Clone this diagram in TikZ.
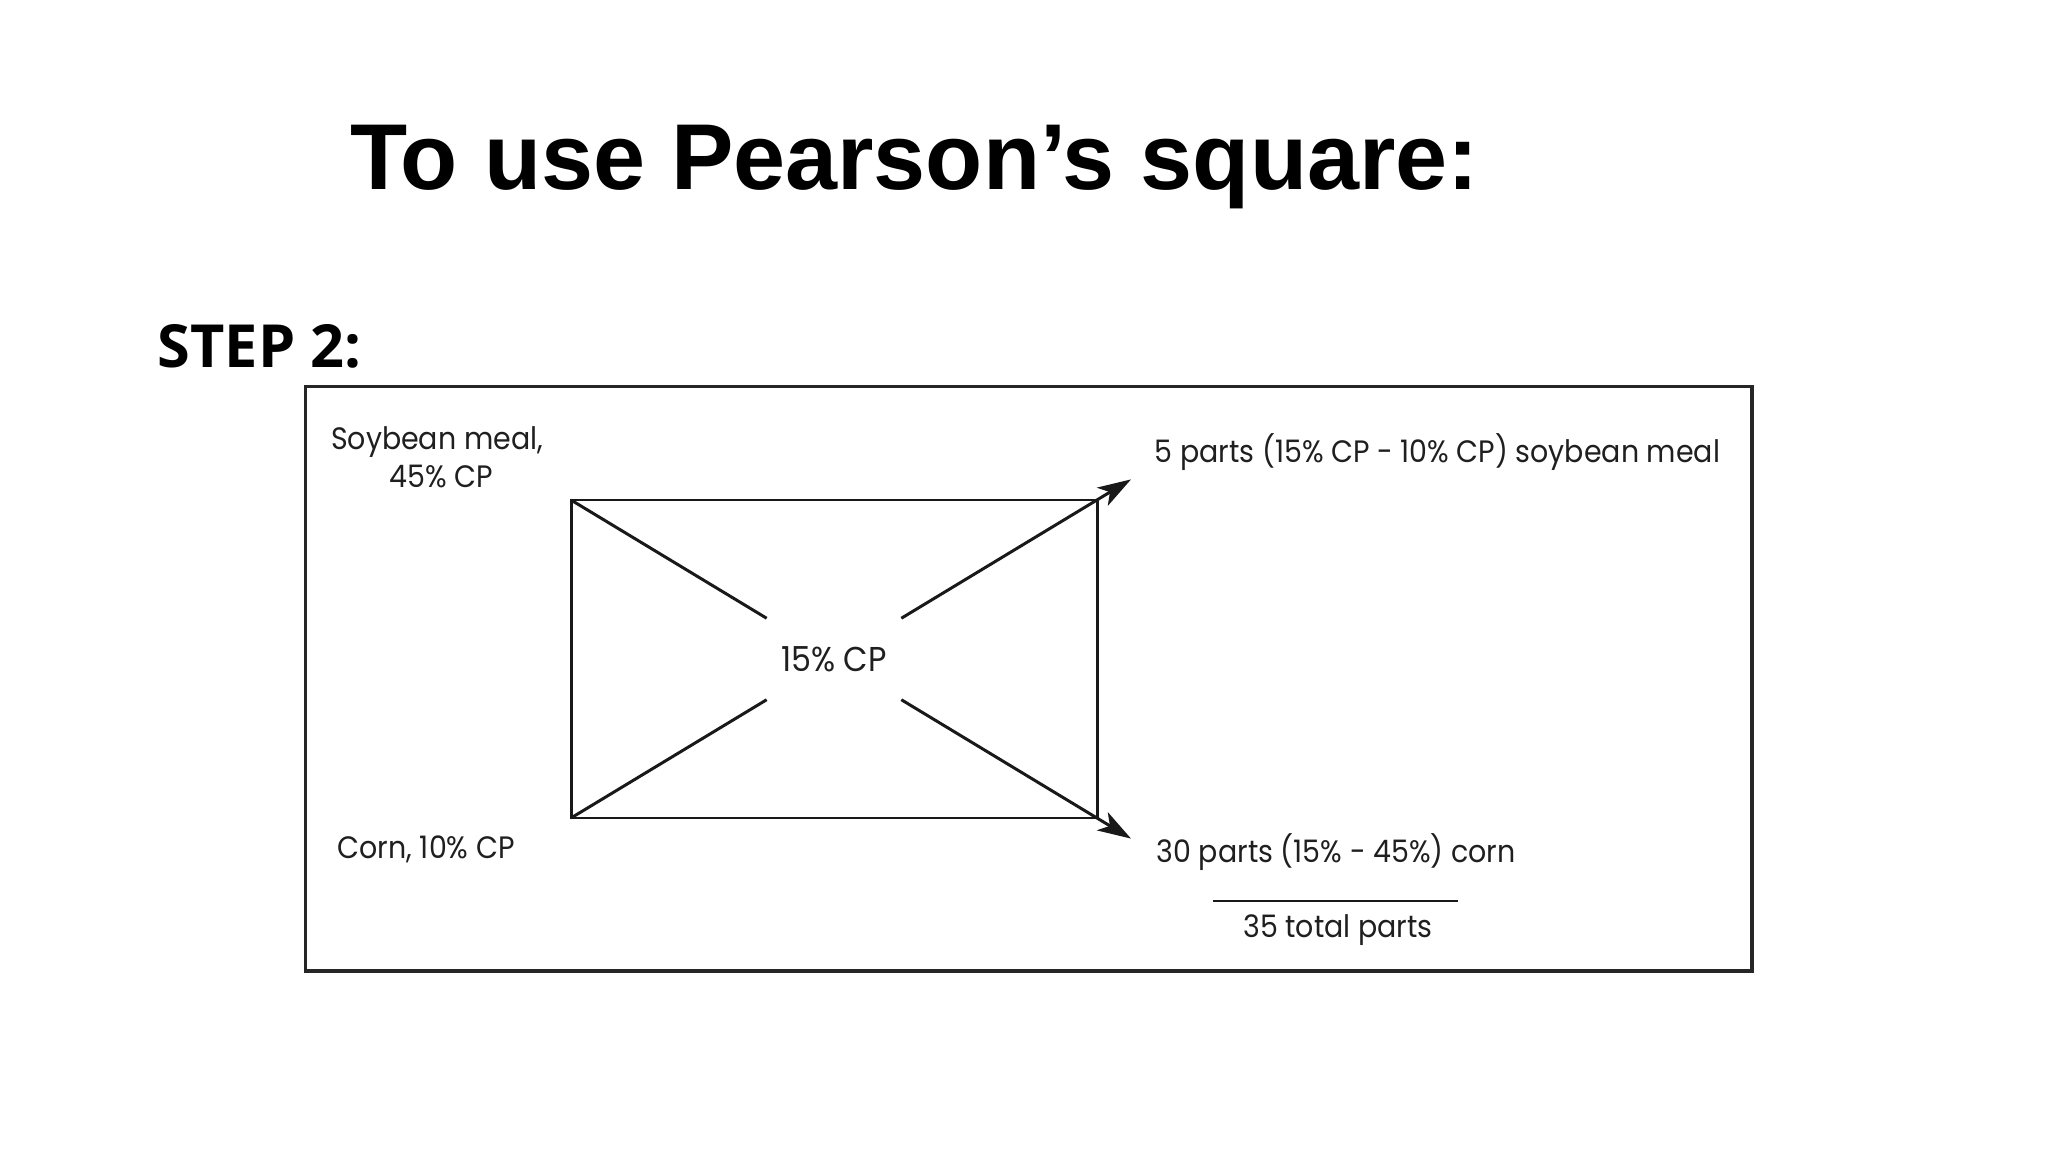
\documentclass[tikz,border=0pt]{standalone}
\usepackage{fontspec}
\usetikzlibrary{arrows.meta}
\newfontfamily\titlefont{Liberation Sans}
\newfontfamily\stepfont{Open Sans}
\newfontfamily\labelfont{Poppins}[FakeStretch=0.92]
\tikzset{
  lbl/.style={inner sep=0pt, font=\labelfont\fontsize{8.8pt}{10pt}\selectfont, text=black!88},
  ln/.style={line width=0.85pt, draw=black!90},
  arr/.style={ln, -{Stealth[length=9.5pt, width=6pt, inset=2.5pt]}},
}
\begin{document}
\begin{tikzpicture}[x=0.01cm, y=-0.01cm]
\useasboundingbox (0,0) rectangle (2048,1152);
\fill[white] (0,0) rectangle (2048,1152);
% title
\node[anchor=base west, inner sep=0pt, font=\titlefont\bfseries\fontsize{26.6pt}{30pt}\selectfont] (title) at (350,190) {To use Pearson’s square:};
\node[anchor=base west, inner sep=0pt, font=\stepfont\bfseries\fontsize{16.9pt}{20pt}\selectfont] (step) at (157,368) {STEP 2:};
% frame
\coordinate (f1) at (305.5,386.5);
\coordinate (f2) at (1752,971);
\draw[line width=0.95pt, draw=black!85] (f1) rectangle (f2);
% inner rectangle
\coordinate (tl) at (571,500);
\coordinate (tr) at (1097,500);
\coordinate (bl) at (571,818);
\coordinate (br) at (1097,818);
\coordinate (tipTR) at (1131,479.4);
\coordinate (tipBR) at (1131,838.6);
\draw[ln] (tl) -- (tr) -- (br) -- (bl) -- cycle;
\node[lbl, font=\labelfont\fontsize{9.8pt}{11pt}\selectfont, minimum width=19mm, minimum height=8mm] (c) at (834,659) {15\% CP};
\draw[ln] (tl) -- (c);
\draw[ln] (bl) -- (c);
\draw[arr] (c) -- (tipTR);
\draw[arr] (c) -- (tipBR);
% labels
\node[lbl, anchor=base] (soy1) at (437,450) {Soybean meal,};
\node[lbl, anchor=base] (soy2) at (441,488) {45\% CP};
\node[lbl, anchor=base west] (corn) at (337,858) {Corn, 10\% CP};
\node[lbl, anchor=base west] (out1) at (1154,463) {5 parts (15\% CP - 10\% CP) soybean meal};
\node[lbl, anchor=base west] (out2) at (1156,862) {30 parts (15\% - 45\%) corn};
\coordinate (r1) at (1213,901);
\coordinate (r2) at (1458,901);
\draw[ln] (r1) -- (r2);
\node[lbl, anchor=base] (total) at (1338,937) {35 total parts};
\end{tikzpicture}
\end{document}
